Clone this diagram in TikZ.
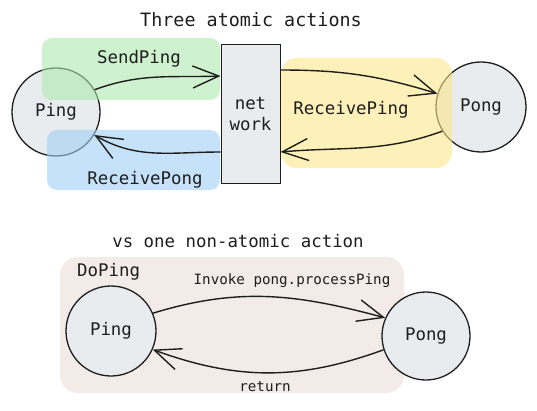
\documentclass[tikz,border=0pt]{standalone}
\usepackage{fontspec}
\setmonofont{DejaVu Sans Mono}
\usetikzlibrary{arrows.meta,calc}
\definecolor{ink}{HTML}{1E1E1E}
\definecolor{cfill}{HTML}{E9ECEF}
\definecolor{hlgreen}{HTML}{ADE9AD}
\definecolor{hlblue}{HTML}{A0CEF7}
\definecolor{hlyellow}{HTML}{FCE68A}
\definecolor{beige}{HTML}{F2EBE8}
\begin{document}
\begin{tikzpicture}[x=1pt,y=1pt,
  font=\ttfamily\fontsize{17.4}{21}\selectfont,
  state/.style={circle, draw=ink, line width=1.3pt, fill=cfill, minimum size=88pt, inner sep=0pt, text=ink},
  hl/.style={rounded corners=10pt, fill opacity=0.6},
  conn/.style={draw=ink, line width=1.4pt, -{Straight Barb[length=26pt,width=22pt]}},
  lbl/.style={text=ink, inner sep=0pt},
  smalltxt/.style={font=\ttfamily\fontsize{14.2}{17}\selectfont},
  titletxt/.style={font=\ttfamily\fontsize{18.4}{22}\selectfont}]
\useasboundingbox (0,0) rectangle (537,410);
% top part
\node[state] (ping1) at (56,298) {Ping};
\node[state, minimum size=90pt] (pong1) at (481,303) {Pong};
\node[draw=ink, fill=cfill, line width=1pt, minimum width=59pt, minimum height=138pt, inner sep=0pt, align=center, text=ink] (net) at (250.5,296) {net\\work};
\fill[hlgreen, hl] (42,310) rectangle (220,372);
\fill[hlblue, hl] (47,220) rectangle (220,280);
\fill[hlyellow, hl, rounded corners=16pt] (281,242) rectangle (452,352);
\node[lbl, titletxt] (title1) at (251,390) {Three atomic actions};
\node[lbl] (sendping) at (139,351) {SendPing};
\node[lbl] (recvping) at (351,300) {ReceivePing};
\node[lbl] (recvpong) at (145,230) {ReceivePong};
\draw[conn] (ping1.30) to[out=20,in=182] ($(net.west)+(0,38)$);
\draw[conn] ($(net.east)+(0,44)$) to[out=0,in=163] (pong1.163);
\draw[conn] (pong1.212) to[out=200,in=5] ($(net.east)+(0,-38)$);
\draw[conn] ($(net.west)+(0,-38)$) to[out=180,in=-30] (ping1.-31);
% bottom part
\node[lbl] (title2) at (238,169) {vs one non-atomic action};
\fill[beige, rounded corners=18pt] (60,17) rectangle (404,153);
\node[state, minimum size=90pt] (ping2) at (111,79) {Ping};
\node[state] (pong2) at (426,74) {Pong};
\node[lbl, anchor=west] (doping) at (77,138) {DoPing};
\node[lbl, smalltxt] (invoke) at (292,129) {Invoke pong.processPing};
\node[lbl, smalltxt] (ret) at (265,23) {return};
\draw[conn] (ping2.23) to[out=17,in=165] (pong2.156);
\draw[conn] (pong2.198) to[out=200,in=-20] (ping2.-24);
\end{tikzpicture}
\end{document}
